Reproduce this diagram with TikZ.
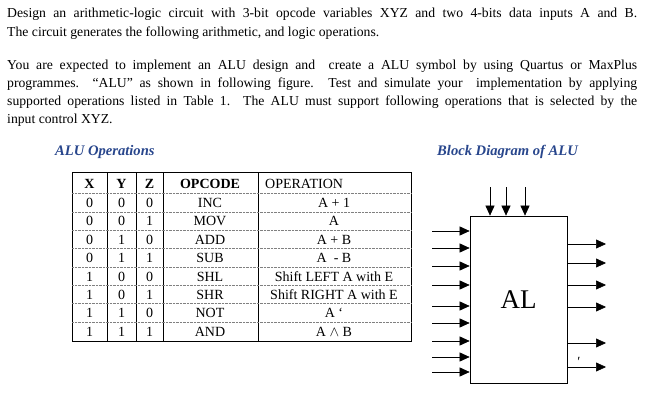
\documentclass[tikz,border=0pt]{standalone}
\usepackage{fontspec}
\setmainfont{Liberation Serif}
\usetikzlibrary{arrows.meta}
\definecolor{hd}{RGB}{40,70,140}
\begin{document}
\begin{tikzpicture}[x=1pt,y=-1pt,
  para/.style={anchor=base west,inner sep=0,font=\fontsize{13.7}{16}\selectfont},
  cell/.style={anchor=base,inner sep=0,font=\fontsize{14}{16}\selectfont},
  arr/.style={-{Triangle[length=10pt,width=9pt]},line width=0.6pt},
  dl/.style={densely dotted,gray,line width=0.4pt}]
\useasboundingbox (0,0) rectangle (647,401);
\node[para] (p1) at (7,18) {\makebox[630pt][s]{Design an arithmetic-logic circuit with 3-bit opcode variables XYZ and two 4-bits data inputs A and B.}};
\node[para] (p2) at (7,37) {The circuit generates the following arithmetic, and logic operations.};
\node[para] (p3) at (7,70) {\makebox[630pt][s]{You are expected to implement an ALU design and\ \ create a ALU symbol by using Quartus or MaxPlus}};
\node[para] (p4) at (7,88) {\makebox[630pt][s]{programmes.\ \ “ALU” as shown in following figure. Test and simulate your\ \ implementation by applying}};
\node[para] (p5) at (7,106) {\makebox[630pt][s]{supported operations listed in Table 1. The ALU must support following operations that is selected by the}};
\node[para] (p6) at (7,124) {input control XYZ.};
\node[para,text=hd,font=\fontsize{14.6}{16}\selectfont\bfseries\itshape] (h1) at (55,155) {ALU Operations};
\node[para,text=hd,font=\fontsize{14.6}{16}\selectfont\bfseries\itshape] (h2) at (437,155) {Block Diagram of ALU};
% table
\draw[line width=0.6pt] (72,172) rectangle (411,341);
\foreach \x in {107,136,163,258} \draw[line width=0.6pt] (\x,172) -- (\x,341);
\foreach \y in {193,212,230,248,267,285,303,322} \draw[dl] (72,\y) -- (411,\y);
\node[cell,font=\fontsize{14}{16}\selectfont\bfseries] (hx) at (89.5,188) {X};
\node[cell,font=\fontsize{14}{16}\selectfont\bfseries] (hy) at (121.5,188) {Y};
\node[cell,font=\fontsize{14}{16}\selectfont\bfseries] (hz) at (149.5,188) {Z};
\node[cell,font=\fontsize{14}{16}\selectfont\bfseries] (ho) at (210,188) {OPCODE};
\node[cell,anchor=base west] (hop) at (265,188) {OPERATION};
\foreach \i/\a/\b/\c/\o/\p in {0/0/0/0/INC/{A + 1},1/0/0/1/MOV/A,2/0/1/0/ADD/{A + B},3/0/1/1/SUB/{A\ \ - B},4/1/0/0/SHL/{Shift LEFT A with E},5/1/0/1/SHR/{Shift RIGHT A with E},6/1/1/0/NOT/{A ‘},7/1/1/1/AND/{A $\wedge$ B}}{
  \pgfmathsetmacro\yy{207.5+18.4*\i}
  \node[cell] (ca\i) at (89.5,\yy) {\a};
  \node[cell] (cb\i) at (121.5,\yy) {\b};
  \node[cell] (cc\i) at (149.5,\yy) {\c};
  \node[cell] (co\i) at (210,\yy) {\o};
  \node[cell] (cp\i) at (334,\yy) {\p};
}
% ALU block
\node[draw,line width=0.7pt,minimum width=97pt,minimum height=167pt,inner sep=0,font=\fontsize{27}{30}\selectfont] (alu) at (518.5,299.5) {AL};
\foreach \x [count=\i] in {490,506,525}{
  \coordinate (t\i) at (\x,187);
  \draw[arr] (t\i) -- (t\i |- alu.north);
}
\foreach \y [count=\i] in {231,248,266,285,306,323,341,357,372}{
  \coordinate (l\i) at (432,\y);
  \draw[arr] (l\i) -- (l\i -| alu.west);
}
\foreach \y [count=\i] in {244,263,285,307,343,367}{
  \coordinate (r\i) at (606,\y);
  \draw[arr] (r\i -| alu.east) -- (r\i);
}
\node[inner sep=0,font=\fontsize{14}{16}\selectfont] (tick) at (579,362) {′};
\end{tikzpicture}
\end{document}
